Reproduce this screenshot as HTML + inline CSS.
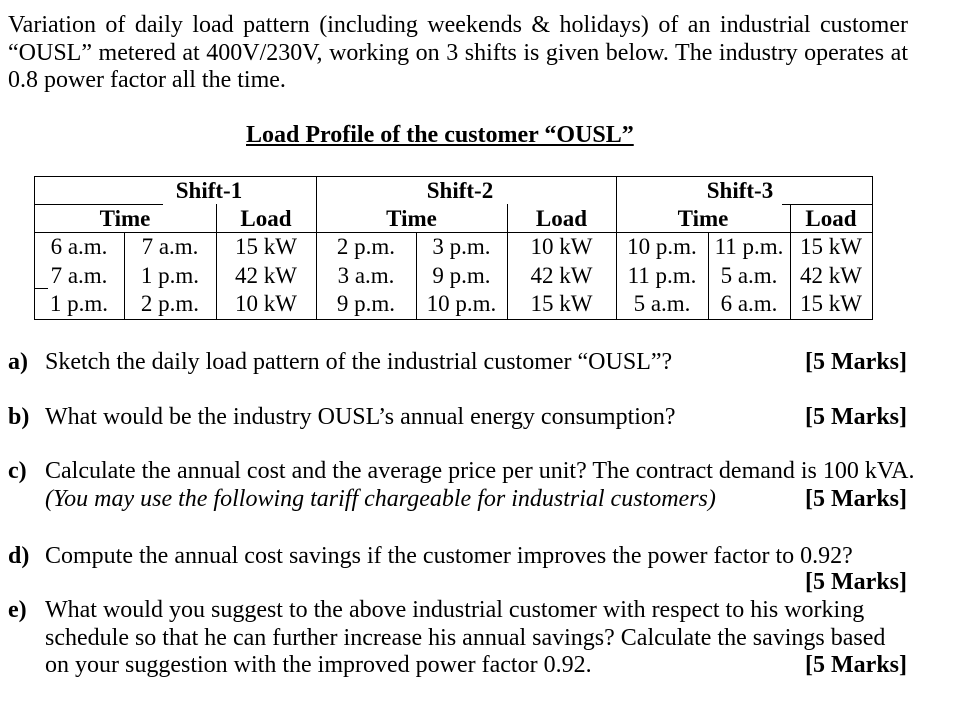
<!DOCTYPE html>
<html><head><meta charset="utf-8"><style>
body{margin:0;width:955px;height:703px;background:#fff;position:relative;overflow:hidden;font-family:"Liberation Serif",serif;color:#000}
.t{position:absolute;font-size:24px;line-height:28px;white-space:nowrap}
.b{font-weight:bold}
.j{width:900px;text-align:justify;text-align-last:justify}
.hl{position:absolute;height:1px;background:#000}
.vl{position:absolute;width:1px;background:#000}
.c{position:absolute;font-size:23px;line-height:28px;text-align:center;white-space:nowrap}
.r{position:absolute;right:48px;font-size:24px;line-height:28px;font-weight:bold}
</style></head><body>
<div>
<div class="t j" style="left:8px;top:11px">Variation of daily load pattern (including weekends &amp; holidays) of an industrial customer</div>
<div class="t j" style="left:8px;top:39px">“OUSL” metered at 400V/230V, working on 3 shifts is given below. The industry operates at</div>
<div class="t" style="left:8px;top:66px">0.8 power factor all the time.</div>
</div>
<div class="t b" style="left:246px;top:121px;text-decoration:underline">Load Profile of the customer “OUSL”</div>

<div>
<div class="hl" style="left:34px;top:176px;width:839px"></div>
<div class="hl" style="left:34px;top:319px;width:839px"></div>
<div class="hl" style="left:34px;top:204px;width:129px"></div>
<div class="hl" style="left:782px;top:204px;width:91px"></div>
<div class="hl" style="left:34px;top:232px;width:839px"></div>
<div class="hl" style="left:34px;top:288px;width:14px"></div>
<div class="vl" style="left:34px;top:176px;height:144px"></div>
<div class="vl" style="left:872px;top:176px;height:144px"></div>
<div class="vl" style="left:124px;top:232px;height:88px"></div>
<div class="vl" style="left:216px;top:204px;height:116px"></div>
<div class="vl" style="left:316px;top:176px;height:144px"></div>
<div class="vl" style="left:416px;top:232px;height:88px"></div>
<div class="vl" style="left:507px;top:204px;height:116px"></div>
<div class="vl" style="left:616px;top:176px;height:144px"></div>
<div class="vl" style="left:708px;top:232px;height:88px"></div>
<div class="vl" style="left:790px;top:204px;height:116px"></div>

<div class="c b" style="left:124px;width:170px;top:177px">Shift-1</div>
<div class="c b" style="left:380px;width:160px;top:177px">Shift-2</div>
<div class="c b" style="left:660px;width:160px;top:177px">Shift-3</div>
<div class="c b" style="left:34px;width:182px;top:205px">Time</div>
<div class="c b" style="left:216px;width:100px;top:205px">Load</div>
<div class="c b" style="left:316px;width:191px;top:205px">Time</div>
<div class="c b" style="left:507px;width:109px;top:205px">Load</div>
<div class="c b" style="left:616px;width:174px;top:205px">Time</div>
<div class="c b" style="left:790px;width:82px;top:205px">Load</div>

<div class="c" style="left:34px;width:90px;top:233px">6 a.m.</div>
<div class="c" style="left:124px;width:92px;top:233px">7 a.m.</div>
<div class="c" style="left:216px;width:100px;top:233px">15 kW</div>
<div class="c" style="left:316px;width:100px;top:233px">2 p.m.</div>
<div class="c" style="left:416px;width:91px;top:233px">3 p.m.</div>
<div class="c" style="left:507px;width:109px;top:233px">10 kW</div>
<div class="c" style="left:616px;width:92px;top:233px">10 p.m.</div>
<div class="c" style="left:708px;width:82px;top:233px">11 p.m.</div>
<div class="c" style="left:790px;width:82px;top:233px">15 kW</div>

<div class="c" style="left:34px;width:90px;top:262px">7 a.m.</div>
<div class="c" style="left:124px;width:92px;top:262px">1 p.m.</div>
<div class="c" style="left:216px;width:100px;top:262px">42 kW</div>
<div class="c" style="left:316px;width:100px;top:262px">3 a.m.</div>
<div class="c" style="left:416px;width:91px;top:262px">9 p.m.</div>
<div class="c" style="left:507px;width:109px;top:262px">42 kW</div>
<div class="c" style="left:616px;width:92px;top:262px">11 p.m.</div>
<div class="c" style="left:708px;width:82px;top:262px">5 a.m.</div>
<div class="c" style="left:790px;width:82px;top:262px">42 kW</div>

<div class="c" style="left:34px;width:90px;top:290px">1 p.m.</div>
<div class="c" style="left:124px;width:92px;top:290px">2 p.m.</div>
<div class="c" style="left:216px;width:100px;top:290px">10 kW</div>
<div class="c" style="left:316px;width:100px;top:290px">9 p.m.</div>
<div class="c" style="left:416px;width:91px;top:290px">10 p.m.</div>
<div class="c" style="left:507px;width:109px;top:290px">15 kW</div>
<div class="c" style="left:616px;width:92px;top:290px">5 a.m.</div>
<div class="c" style="left:708px;width:82px;top:290px">6 a.m.</div>
<div class="c" style="left:790px;width:82px;top:290px">15 kW</div>
</div>

<div>
<div class="t b" style="left:8px;top:348px">a)</div>
<div class="t" style="left:45px;top:348px">Sketch the daily load pattern of the industrial customer “OUSL”?</div>
<div class="r" style="top:348px">[5 Marks]</div>
</div>
<div>
<div class="t b" style="left:8px;top:403px">b)</div>
<div class="t" style="left:45px;top:403px">What would be the industry OUSL’s annual energy consumption?</div>
<div class="r" style="top:403px">[5 Marks]</div>
</div>
<div>
<div class="t b" style="left:8px;top:457px">c)</div>
<div class="t" style="left:45px;top:457px">Calculate the annual cost and the average price per unit? The contract demand is 100 kVA.</div>
<div class="t" style="left:45px;top:485px;font-style:italic">(You may use the following tariff chargeable for industrial customers)</div>
<div class="r" style="top:485px">[5 Marks]</div>
</div>
<div>
<div class="t b" style="left:8px;top:542px">d)</div>
<div class="t" style="left:45px;top:542px">Compute the annual cost savings if the customer improves the power factor to 0.92?</div>
<div class="r" style="top:568px">[5 Marks]</div>
</div>
<div>
<div class="t b" style="left:8px;top:596px">e)</div>
<div class="t" style="left:45px;top:596px">What would you suggest to the above industrial customer with respect to his working</div>
<div class="t" style="left:45px;top:624px">schedule so that he can further increase his annual savings? Calculate the savings based</div>
<div class="t" style="left:45px;top:651px">on your suggestion with the improved power factor 0.92.</div>
<div class="r" style="top:651px">[5 Marks]</div>
</div>
</body></html>
